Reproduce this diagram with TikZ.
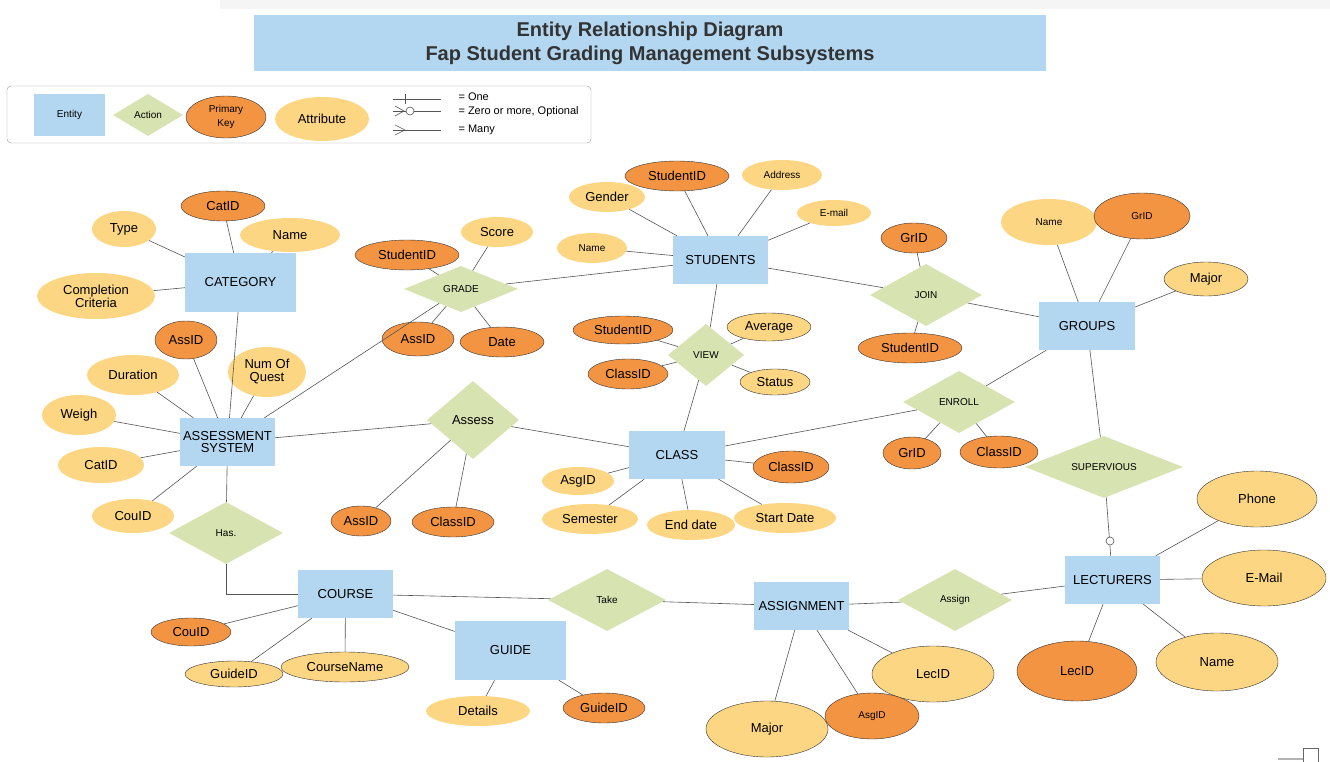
\documentclass[tikz,border=0pt]{standalone}
\usepackage{fontspec}
\setmainfont{Liberation Sans}
\usetikzlibrary{shapes.geometric}
\definecolor{ent}{HTML}{B3D7F0}
\definecolor{act}{HTML}{D7E3B1}
\definecolor{pk}{HTML}{F39443}
\definecolor{att}{HTML}{FCD683}
\definecolor{ln}{HTML}{555555}
\tikzset{
 ent/.style={rectangle,fill=ent,inner sep=0,font=\fontsize{13}{15}\selectfont,align=center},
 act/.style={diamond,fill=act,inner sep=0,font=\fontsize{10}{12}\selectfont,aspect=2},
 pk/.style={ellipse,fill=pk,draw=black!80,inner sep=0,font=\fontsize{13}{15}\selectfont,align=center},
 attr/.style={ellipse,fill=att,inner sep=0,font=\fontsize{13}{15}\selectfont,align=center},
 atb/.style={attr,draw=black!80},
 sm/.style={font=\fontsize{11}{13}\selectfont},
 con/.style={draw=ln,line width=0.6pt},
}
\newcommand{\En}[5]{\node[ent,minimum width=#3pt,minimum height=#4pt] (#1) at #2 {#5};}
\newcommand{\Dm}[5]{\node[act,minimum width=#3pt,minimum height=#4pt] (#1) at #2 {#5};}
\newcommand{\Ov}[6]{\node[#1,minimum width=#4pt,minimum height=#5pt] (#2) at #3 {#6};}
\begin{document}
\begin{tikzpicture}[x=1pt,y=-1pt]
\useasboundingbox (0,0) rectangle (1330,762);
\fill[white] (0,0) rectangle (1330,762);
\fill[black!4] (220,0) rectangle (1330,9);
% title
\node[fill=ent,minimum width=792pt,minimum height=56pt,align=center,font=\bfseries\fontsize{20}{24}\selectfont,text=black!80] (title) at (650,43) {Entity Relationship Diagram\\Fap Student Grading Management Subsystems};
% legend
\node[draw=black!40,rounded corners=4pt,minimum width=584pt,minimum height=57pt] (leg) at (299,114.5) {};
\En{le}{(69.5,115)}{71}{42}{\fontsize{10}{12}\selectfont Entity}
\Dm{la}{(148,115)}{70}{42}{Action}
\Ov{pk}{lp}{(226,117)}{80}{42}{\fontsize{10}{11}\selectfont Primary\\[-1pt]\fontsize{10}{11}\selectfont Key}
\Ov{attr}{lat}{(322,119)}{94}{44}{Attribute}
\coordinate (l1a) at (393,99); \coordinate (l1b) at (441,99);
\coordinate (l2a) at (393,111); \coordinate (l2b) at (441,111);
\coordinate (l3a) at (393,130); \coordinate (l3b) at (441,130);
\draw[con] (l1a)--(l1b); \draw[con] (405,94)--(405,104);
\draw[con] (l2a)--(l2b); \draw[con,fill=white] (410,111) circle (4); \draw[con] (395,106)--(404,111)--(395,116);
\draw[con] (l3a)--(l3b); \draw[con] (395,125)--(405,130)--(395,135);
\node[sm,anchor=west] (t1) at (455,97) {= One};
\node[sm,anchor=west] (t2) at (455,112) {= Zero or more, Optional};
\node[sm,anchor=west] (t3) at (455,130) {= Many};
% entities
\En{cat}{(240.5,282.5)}{111}{59}{CATEGORY}
\En{ass}{(227.5,442)}{95}{48}{ASSESSMENT\\[-3pt]SYSTEM}
\En{stu}{(720.5,260)}{95}{48}{STUDENTS}
\En{grp}{(1087,326)}{96}{48}{GROUPS}
\En{cls}{(677,455)}{96}{48}{CLASS}
\En{crs}{(345.5,594)}{95}{48}{COURSE}
\En{gui}{(510.5,650.5)}{111}{59}{GUIDE}
\En{asg}{(801.5,606)}{95}{48}{ASSIGNMENT}
\En{lec}{(1112.5,580)}{95}{48}{LECTURERS}
% actions
\Dm{grade}{(461,289)}{114}{46}{GRADE}
\Dm{view}{(706,355)}{76}{62}{VIEW}
\Dm{join}{(926,295)}{112}{62}{JOIN}
\Dm{enr}{(959,402)}{112}{62}{ENROLL}
\node[act,minimum width=92pt,minimum height=78pt,aspect=1.2,font=\fontsize{13}{15}\selectfont] (assess) at (473,420) {Assess};
\Dm{sup}{(1104,467)}{158}{62}{SUPERVIOUS}
\Dm{has}{(226,533)}{114}{62}{Has.}
\Dm{take}{(607,600)}{118}{62}{Take}
\Dm{asn}{(955,600)}{114}{62}{Assign}
% attributes
\Ov{pk}{a1}{(223,206)}{84}{30}{CatID}
\Ov{attr}{a2}{(124,229)}{64}{36}{Type}
\Ov{attr}{a3}{(290,235)}{100}{34}{Name}
\Ov{attr}{a4}{(96,296)}{118}{46}{Completion\\[-2pt]Criteria}
\Ov{pk}{a5}{(186,340)}{62}{38}{AssID}
\Ov{attr}{a6}{(267,372)}{78}{50}{Num Of\\[-2pt]Quest}
\Ov{attr}{a7}{(133,375)}{92}{40}{Duration}
\Ov{attr}{a8}{(79,415)}{74}{40}{Weigh}
\Ov{attr}{a9}{(101,465)}{86}{36}{CatID}
\Ov{attr}{a10}{(133,516)}{82}{34}{CouID}
\Ov{pk}{b1}{(407,255)}{104}{30}{StudentID}
\Ov{attr}{b2}{(497,232)}{72}{30}{Score}
\Ov{pk}{b3}{(418,339)}{72}{34}{AssID}
\Ov{pk}{b4}{(502,342)}{84}{30}{Date}
\Ov{pk}{c1}{(677,176)}{104}{30}{StudentID}
\Ov{attr}{c2}{(782,175)}{80}{30}{\fontsize{10}{12}\selectfont Address}
\Ov{attr}{c3}{(607,197)}{76}{30}{Gender}
\Ov{attr}{c4}{(834,213)}{74}{26}{\fontsize{10}{12}\selectfont E-mail}
\Ov{attr}{c5}{(592,248)}{70}{30}{\fontsize{10}{12}\selectfont Name}
\Ov{pk}{d1}{(623,330)}{100}{28}{StudentID}
\Ov{pk}{d2}{(628,374)}{80}{30}{ClassID}
\Ov{atb}{d3}{(769,327)}{84}{28}{Average}
\Ov{atb}{d4}{(775,382)}{70}{26}{Status}
\Ov{pk}{e1}{(914,238)}{66}{30}{GrID}
\Ov{pk}{e2}{(910,348)}{104}{30}{StudentID}
\Ov{attr}{f1}{(1049,222)}{96}{46}{\fontsize{10}{12}\selectfont Name}
\Ov{pk}{f2}{(1142,216)}{96}{46}{\fontsize{10}{12}\selectfont GrID}
\Ov{atb}{f3}{(1206,279)}{84}{34}{Major}
\Ov{pk}{g1}{(912,453)}{58}{32}{GrID}
\Ov{pk}{g2}{(999,452)}{78}{32}{ClassID}
\Ov{pk}{h1}{(791,467)}{76}{32}{ClassID}
\Ov{attr}{h2}{(578,481)}{72}{28}{AsgID}
\Ov{attr}{h3}{(590,519)}{96}{30}{Semester}
\Ov{attr}{h4}{(691,525)}{88}{30}{End date}
\Ov{attr}{h5}{(785,518)}{102}{30}{Start Date}
\Ov{pk}{i1}{(361,521)}{60}{30}{AssID}
\Ov{pk}{i2}{(453,522)}{82}{30}{ClassID}
\Ov{atb}{j1}{(1257,499)}{120}{56}{Phone}
\Ov{atb}{j2}{(1264,578)}{124}{56}{E-Mail}
\Ov{atb}{j3}{(1217,662)}{122}{58}{Name}
\Ov{pk}{j4}{(1077,671)}{120}{60}{LecID}
\Ov{atb}{k1}{(933,674)}{122}{56}{LecID}
\Ov{pk}{k2}{(872,716)}{94}{46}{\fontsize{10}{12}\selectfont AsgID}
\Ov{atb}{k3}{(767,729)}{122}{56}{Major}
\Ov{pk}{m1}{(191,632)}{80}{28}{CouID}
\Ov{atb}{m2}{(234,674)}{98}{26}{GuideID}
\Ov{atb}{m3}{(345,667)}{128}{30}{CourseName}
\Ov{attr}{n1}{(478,711)}{104}{30}{Details}
\Ov{pk}{n2}{(604,708)}{82}{30}{GuideID}
% connectors
\foreach \a/\b in {cat/a1,cat/a2,cat/a3,cat/a4,cat/ass,ass/a5,ass/a6,ass/a7,ass/a8,ass/a9,ass/a10,
 grade/b1,grade/b2,grade/b3,grade/b4,ass/grade,grade/stu,ass/assess,assess/cls,assess/i1,assess/i2,
 stu/c1,stu/c2,stu/c3,stu/c4,stu/c5,stu/view,view/cls,view/d1,view/d2,view/d3,view/d4,
 stu/join,join/grp,join/e1,join/e2,grp/f1,grp/f2,grp/f3,grp/enr,enr/cls,enr/g1,enr/g2,
 cls/h1,cls/h2,cls/h3,cls/h4,cls/h5,grp/sup,sup/lec,lec/j1,lec/j2,lec/j3,lec/j4,
 lec/asn,asn/asg,asg/take,take/crs,asg/k1,asg/k2,asg/k3,crs/gui,crs/m1,crs/m2,crs/m3,gui/n1,gui/n2}
 {\draw[con] (\a)--(\b);}
\draw[con] (ass)--(has);
\draw[con] (has.south)|-(crs.west);
\draw[con,fill=white] (1110,541) circle (4);
\draw[black!30,line width=2pt] (1278,759)--(1318,759);
\draw[black!60,fill=white] (1303,748) rectangle (1318,762);
\end{tikzpicture}
\end{document}
